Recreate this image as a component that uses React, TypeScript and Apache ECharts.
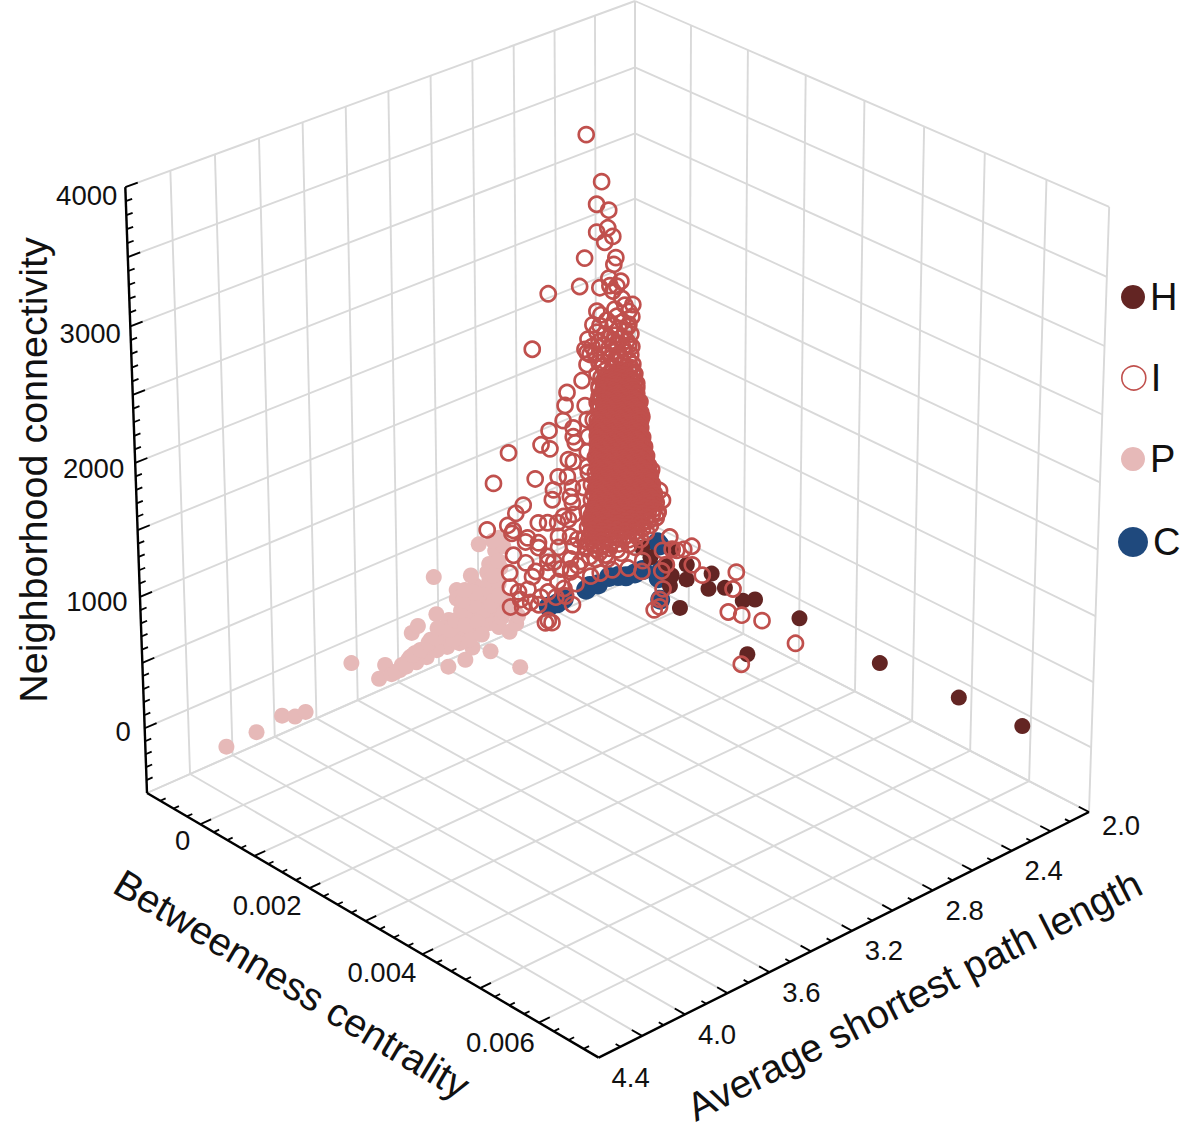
import React, { useEffect, useRef } from 'react';
import * as echarts from 'echarts';

// nodes are [betweenness centrality, average shortest path length, neighborhood connectivity]
type Node3 = [number, number, number];

const hubNodes: Node3[] = [
  [0.0063, 2.14, 100], [0.0053, 2.16, 100], [0.00405, 2.19, 100], [0.00258, 2.17, 100], [0.0028, 2.5, 100],
  [0.00186, 2.19, 100], [0.00178, 2.23, 100], [0.00139, 2.21, 100], [0.00127, 2.26, 100], [0.00101, 2.17, 100],
  [0.00091, 2.27, 100], [0.00063, 2.19, 100], [0.00089, 2.35, 100], [0.00071, 2.29, 100], [0.00045, 2.25, 100],
  [0.00018, 2.25, 100], [-0.00008, 2.22, 100], [0.00139, 2.44, 100], [0.00023, 2.15, 100],
];

const peripheralNodes: Node3[] = [
  [0, 4.27, 0], [0, 4.13, 10], [0, 4.01, 50], [0, 3.95, 0], [0, 3.9, 0], [0, 3.68, 220], [0, 3.55, 7], [0, 3.52, 92],
  [0, 3.49, 0], [0, 3.45, 3], [0, 3.41, 53], [0, 3.37, 7], [0, 3.32, 12], [0, 3.29, 124], [0, 3.39, 250], [0, 3.36, 283],
  [0, 3.28, 606], [0, 3.27, 312], [0, 3.21, 225], [0.0004, 3.32, 30], [0.00041, 3.24, 30], [0.00024, 3.16, 30],
  [0.00046, 3.13, 30], [0.001, 3.13, 30], [0, 3.17, 430], [0, 3.17, 365], [0, 3.08, 405], [0, 3.06, 710], [0, 2.96, 693],
  [0, 2.98, 605], [0, 3.01, 524], [0, 3.02, 465], [0, 2.955, 457], [0, 3.03, 344], [0, 3.095, 322], [0, 3.14, 200],
  [0, 3.17, 120], [0, 3.23, 106], [0, 3.255, 76], [0, 3.3, 80], [0, 3.34, 80], [0, 3.22, 22], [0, 3.14, 45], [0, 3.095, 89],
  [0, 3.08, 184], [0, 3.01, 62], [0, 2.965, 0], [0.00025, 2.98, 30], [0.00015, 2.92, 30], [0, 2.98, 139], [0, 3.03, 228],
  [0, 2.98, 240], [0, 2.94, 190], [0, 2.95, 65], [0, 3.05, 132], [0, 3.11, 231], [0, 3.06, 275], [0, 3.01, 319], [0, 3.11, 0],
  [0, 3.16, 9], [0, 3.19, 56], [0, 3.255, 154], [0, 3.3, 134], [0, 3.4, 69], [0, 3.44, 35], [0, 3.05, 55], [0, 3.01, 396],
  [0, 2.965, 339], [0, 3.375, 83], [0, 3.27, 32], [0, 3.18, 166], [0, 3.11, 153], [0, 3.04, 180], [0, 2.99, 224],
  [0, 2.92, 135], [0, 2.87, 23],
  [0, 3.47, 4], [0, 3.42, 9], [0, 3.385, 75], [0, 3.35, 90], [0, 3.31, 118], [0, 3.275, 129], [0, 3.24, 183], [0, 3.205, 144],
  [0, 3.18, 200], [0, 3.15, 258], [0, 3.13, 128], [0, 3.09, 256], [0, 3.07, 111], [0, 3.0, 195], [0, 2.94, 97], [0, 2.89, 79],
  [0, 3.05, 0], [0, 3.265, 200], [0, 3.14, 329], [0, 3.085, 353], [0, 2.99, 418], [0, 2.965, 517], [0, 2.94, 616], [0, 2.99, 690],
  [0, 2.965, 246], [0, 3.1, 496], [0, 3.13, 403],
];

const connectorNodes: Node3[] = [
  [0.00027, 2.79, 100], [0.00028, 2.75, 100], [0.00025, 2.71, 100], [0.00026, 2.6, 100], [0.00022, 2.57, 100],
  [0.00026, 2.54, 100], [0.00021, 2.47, 100], [0.00027, 2.44, 100], [0.00034, 2.42, 100], [0.00036, 2.38, 100],
  [0.00036, 2.34, 100], [0.00107, 2.45, 100], [0.00052, 2.29, 100], [0.00065, 2.34, 100], [-0.00005, 2.15, 100],
  [0.00003, 2.16, 100],
];

// the loose rings round the dense column, read one by one
const intermediateNodes: Node3[] = [
  [0, 2.52, 3480], [0, 2.445, 3085], [0, 2.47, 2930], [0, 2.41, 2850], [0, 2.47, 2720], [0, 2.415, 2720], [0, 2.39, 2640],
  [0, 2.43, 2620], [0, 2.53, 2560], [0, 2.375, 2470], [0, 2.385, 2425], [0, 2.71, 2400], [0, 2.555, 2360], [0, 2.41, 2335],
  [0, 2.35, 2275], [0, 2.455, 2290], [0, 2.405, 2275], [0, 2.37, 2250], [0, 2.39, 2225], [0, 2.79, 2030], [0, 2.29, 2060],
  [0, 2.345, 2140], [0, 2.47, 2120], [0, 2.295, 1970], [0, 2.49, 2030], [0, 2.315, 1905], [0, 2.455, 2000], [0, 2.515, 1935],
  [0, 2.295, 1740], [0, 2.52, 1835], [0, 2.495, 1865],
  [0, 2.545, 1636], [0, 2.52, 1744], [0, 2.505, 1811], [0, 2.53, 1866], [0, 2.62, 1592], [0, 2.63, 1498], [0, 2.53, 1433],
  [0, 2.64, 1388], [0, 2.71, 1356], [0, 2.75, 1273], [0, 2.706, 1213], [0, 2.91, 1315], [0, 2.985, 1130], [0, 2.78, 1029],
  [0, 2.59, 1300], [0, 2.59, 1232], [0, 2.58, 1178], [0, 2.515, 1184], [0, 2.49, 1298], [0, 2.52, 1318], [0, 2.615, 1070],
  [0, 2.59, 1038], [0, 2.52, 1070], [0, 2.52, 954], [0, 2.515, 905], [0, 2.666, 970], [0, 2.62, 941], [0, 2.69, 885],
  [0, 2.696, 812], [0, 2.596, 840], [0, 2.606, 776], [0, 2.596, 723], [0, 2.54, 804], [0, 2.84, 866], [0, 2.877, 827],
  [0, 2.52, 597], [0, 2.59, 627], [0, 2.64, 644], [0, 3.018, 793], [0, 2.917, 760], [0, 2.89, 703], [0, 2.897, 685],
  [0, 2.766, 678], [0, 2.72, 649], [0, 2.67, 616], [0, 2.616, 605], [0, 2.82, 598], [0, 2.83, 573], [0, 2.766, 523],
  [0, 2.766, 485], [0, 2.666, 505], [0, 2.57, 420], [0, 2.606, 466], [0, 2.666, 420], [0, 2.59, 379], [0, 2.53, 333],
  [0, 2.89, 510], [0, 2.83, 410], [0, 2.72, 385], [0, 2.69, 320], [0, 2.78, 308], [0, 2.91, 385], [0, 2.606, 288],
  [0, 2.606, 187], [0, 2.555, 233], [0, 2.72, 261], [0, 2.656, 243], [0, 2.797, 279], [0, 2.907, 272], [0, 2.867, 208],
  [0, 2.82, 195], [0, 2.907, 117], [0, 2.857, 140], [0, 2.807, 84], [0, 2.847, 71], [0, 2.756, 90], [0, 2.72, 106],
  [0, 2.67, 153], [0, 2.72, 339], [0, 2.606, 210], [0, 2.57, 211], [0, 2.64, 78],
  [0.00043, 2.715, 100], [0.00053, 2.863, 100], [0.00055, 2.883, 100], [0.0006, 2.864, 100], [0.00004, 2.516, 100],
  [0.00006, 2.473, 100], [0.0001, 2.423, 100], [0.00006, 2.596, 100], [0.00015, 2.722, 100], [0.00021, 2.689, 100],
  [0.00015, 2.808, 100],
  [0.00032, 2.076, 100], [0.00031, 2.115, 100], [0.00021, 2.147, 100], [0.00068, 2.176, 100], [0.00096, 2.204, 100],
  [0.00119, 2.094, 100], [0.00148, 2.194, 100], [0.00187, 2.33, 100], [0.00204, 2.31, 100], [0.00231, 2.284, 100],
  [0.003, 2.313, 100], [0.00293, 2.568, 100], [0.00106, 2.45, 100], [0.00121, 2.52, 100], [0.0012, 2.49, 100],
  [0.00089, 2.385, 100], [0.00046, 2.247, 100], [0.00054, 2.293, 100], [0.00015, 2.18, 100], [0.00018, 2.29, 100],
  [0.0002, 2.37, 100], [0.00038, 2.35, 100], [0.00027, 2.14, 100], [0, 2.1, 120],
  [0, 2.244, 1164], [0, 2.254, 1286], [0, 2.27, 1405], [0, 2.254, 1053], [0, 2.244, 931], [0, 2.194, 713], [0, 2.204, 595],
  [0, 2.153, 524], [0, 2.138, 437], [0, 2.163, 352],
];

// the dense column: connectivity level, then the path lengths of the rings at that level
const intermediateColumn: [number, number[]][] = [
  [2080, [2.33, 2.38, 2.45]],
  [2020, [2.31, 2.37, 2.42]],
  [1960, [2.34, 2.39, 2.47]],
  [1920, [2.31, 2.36, 2.43]],
  [1880, [2.33, 2.38, 2.41, 2.46]],
  [1840, [2.3, 2.35, 2.39, 2.44]],
  [1800, [2.32, 2.37, 2.41, 2.48]],
  [1760, [2.31, 2.34, 2.39, 2.43]],
  [1720, [2.33, 2.37, 2.4, 2.46]],
  [1680, [2.3, 2.35, 2.38, 2.44]],
  [1640, [2.31, 2.34, 2.39, 2.43, 2.47]],
  [1600, [2.29, 2.33, 2.37, 2.4, 2.45]],
  [1580, [2.3, 2.34, 2.39, 2.43]],
  [1560, [2.31, 2.35, 2.38, 2.41, 2.44]],
  [1540, [2.29, 2.33, 2.36, 2.39, 2.42, 2.46]],
  [1520, [2.28, 2.32, 2.34, 2.37, 2.39, 2.43, 2.46]],
  [1500, [2.3, 2.35, 2.38, 2.41, 2.44]],
  [1480, [2.3, 2.33, 2.36, 2.38, 2.41, 2.44]],
  [1460, [2.28, 2.32, 2.35, 2.39, 2.43, 2.46]],
  [1440, [2.27, 2.31, 2.34, 2.37, 2.4, 2.42, 2.45]],
  [1420, [2.29, 2.33, 2.36, 2.39, 2.43, 2.47]],
  [1400, [2.29, 2.32, 2.35, 2.38, 2.41, 2.44]],
  [1380, [2.28, 2.31, 2.34, 2.37, 2.4, 2.43, 2.46]],
  [1360, [2.27, 2.3, 2.33, 2.36, 2.39, 2.42, 2.46]],
  [1340, [2.29, 2.32, 2.35, 2.38, 2.41, 2.44]],
  [1320, [2.28, 2.31, 2.34, 2.37, 2.4, 2.43]],
  [1300, [2.27, 2.3, 2.33, 2.36, 2.39, 2.42, 2.45]],
  [1280, [2.26, 2.29, 2.32, 2.35, 2.38, 2.41, 2.44, 2.47]],
  [1260, [2.28, 2.31, 2.34, 2.37, 2.4, 2.43, 2.46]],
  [1240, [2.27, 2.3, 2.33, 2.36, 2.39, 2.42, 2.45]],
  [1220, [2.26, 2.29, 2.32, 2.35, 2.38, 2.41, 2.44, 2.47]],
  [1200, [2.25, 2.28, 2.31, 2.34, 2.37, 2.4, 2.43, 2.46]],
  [1180, [2.27, 2.3, 2.33, 2.36, 2.39, 2.42, 2.45]],
  [1160, [2.26, 2.29, 2.32, 2.35, 2.38, 2.41, 2.44, 2.47]],
  [1140, [2.25, 2.28, 2.31, 2.34, 2.37, 2.4, 2.43, 2.46]],
  [1120, [2.27, 2.3, 2.33, 2.36, 2.39, 2.42, 2.45]],
  [1100, [2.26, 2.29, 2.32, 2.35, 2.38, 2.41, 2.44, 2.47]],
  [1080, [2.25, 2.28, 2.31, 2.34, 2.37, 2.4, 2.43, 2.46]],
  [1060, [2.27, 2.3, 2.33, 2.36, 2.39, 2.42, 2.45]],
  [1040, [2.26, 2.29, 2.32, 2.35, 2.38, 2.41, 2.44, 2.47]],
  [1020, [2.25, 2.28, 2.31, 2.34, 2.37, 2.4, 2.43, 2.46]],
  [1000, [2.24, 2.27, 2.3, 2.33, 2.36, 2.39, 2.42, 2.45, 2.48]],
  [980, [2.26, 2.29, 2.32, 2.35, 2.38, 2.41, 2.44, 2.47]],
  [960, [2.25, 2.28, 2.31, 2.34, 2.37, 2.4, 2.43, 2.46]],
  [940, [2.24, 2.27, 2.3, 2.33, 2.36, 2.39, 2.42, 2.45]],
  [920, [2.23, 2.26, 2.29, 2.32, 2.35, 2.38, 2.41, 2.44, 2.47]],
  [900, [2.25, 2.28, 2.31, 2.34, 2.37, 2.4, 2.43, 2.46]],
  [880, [2.24, 2.27, 2.3, 2.33, 2.36, 2.39, 2.42, 2.45, 2.48]],
  [860, [2.23, 2.26, 2.29, 2.32, 2.35, 2.38, 2.41, 2.44]],
  [840, [2.22, 2.25, 2.28, 2.31, 2.34, 2.37, 2.4, 2.43, 2.46]],
  [820, [2.24, 2.27, 2.3, 2.33, 2.36, 2.39, 2.42, 2.45]],
  [800, [2.23, 2.26, 2.29, 2.32, 2.35, 2.38, 2.41, 2.44, 2.47, 2.5]],
  [780, [2.22, 2.25, 2.28, 2.31, 2.34, 2.37, 2.4, 2.43, 2.46]],
  [760, [2.21, 2.24, 2.27, 2.3, 2.33, 2.36, 2.39, 2.42, 2.45, 2.48]],
  [740, [2.23, 2.26, 2.29, 2.32, 2.35, 2.38, 2.41, 2.44, 2.47]],
  [720, [2.22, 2.25, 2.28, 2.31, 2.34, 2.37, 2.4, 2.43, 2.46, 2.49]],
  [700, [2.21, 2.24, 2.27, 2.3, 2.33, 2.36, 2.39, 2.42, 2.45]],
  [680, [2.2, 2.23, 2.26, 2.29, 2.32, 2.35, 2.38, 2.41, 2.44, 2.47, 2.5]],
  [660, [2.22, 2.25, 2.28, 2.31, 2.34, 2.37, 2.4, 2.43, 2.46]],
  [640, [2.21, 2.24, 2.27, 2.3, 2.33, 2.36, 2.39, 2.42, 2.45, 2.48]],
  [620, [2.2, 2.23, 2.26, 2.29, 2.32, 2.35, 2.38, 2.41, 2.44, 2.47]],
  [600, [2.19, 2.22, 2.25, 2.28, 2.31, 2.34, 2.37, 2.4, 2.43, 2.46, 2.49, 2.52]],
  [580, [2.21, 2.24, 2.27, 2.3, 2.33, 2.36, 2.39, 2.42, 2.45, 2.48]],
  [560, [2.2, 2.23, 2.26, 2.29, 2.32, 2.35, 2.38, 2.41, 2.44, 2.47, 2.5]],
  [540, [2.19, 2.22, 2.25, 2.28, 2.31, 2.34, 2.37, 2.4, 2.43, 2.46, 2.49]],
  [520, [2.18, 2.21, 2.24, 2.27, 2.3, 2.33, 2.36, 2.39, 2.42, 2.45, 2.48, 2.51]],
  [500, [2.2, 2.23, 2.26, 2.29, 2.32, 2.35, 2.38, 2.41, 2.44, 2.47, 2.5]],
  [480, [2.19, 2.22, 2.25, 2.28, 2.31, 2.34, 2.37, 2.4, 2.43, 2.46, 2.49, 2.52]],
  [460, [2.18, 2.21, 2.24, 2.27, 2.3, 2.33, 2.36, 2.39, 2.42, 2.45, 2.48]],
  [440, [2.17, 2.2, 2.23, 2.26, 2.29, 2.32, 2.35, 2.38, 2.41, 2.44, 2.47, 2.5]],
  [400, [2.18, 2.21, 2.24, 2.27, 2.3, 2.33, 2.36, 2.39, 2.42, 2.45, 2.48, 2.51, 2.54]],
  [360, [2.16, 2.19, 2.22, 2.25, 2.28, 2.31, 2.34, 2.37, 2.4, 2.43, 2.46, 2.49, 2.52]],
  [320, [2.17, 2.21, 2.25, 2.29, 2.33, 2.37, 2.41, 2.45, 2.49, 2.53]],
  [280, [2.2, 2.24, 2.28, 2.32, 2.36, 2.4, 2.44, 2.48]],
  [240, [2.22, 2.27, 2.31, 2.36, 2.41, 2.46, 2.51]],
  [200, [2.25, 2.31, 2.37, 2.43, 2.48]],
  [160, [2.28, 2.35, 2.42]],
];

const betweennessLabels = ['0', '0.002', '0.004', '0.006'];
const pathLengthLabels = ['2.0', '2.4', '2.8', '3.2', '3.6', '4.0', '4.4'];
const connectivityLabels = ['0', '1000', '2000', '3000', '4000'];

const bMin = -0.001;
const bMax = 0.007;
const lMin = 2;
const lMax = 4.4;
const zMin = -500;
const zMax = 4000;

// the box as the camera sees it: the far bottom corner and the three corners next to it
const far = [635, 578];
const bEnd = [1089, 812];
const lEnd = [147, 793];
const zEnd = [635, 1];
const wB = 0.94;
const wL = 0.94;
const wZ = 0.96;

const project = (b: number, l: number, z: number) => {
  const u = (b - bMin) / (bMax - bMin);
  const v = (l - lMin) / (lMax - lMin);
  const t = (z - zMin) / (zMax - zMin);
  const d = 1 + u * (wB - 1) + v * (wL - 1) + t * (wZ - 1);
  return [0, 1].map(
    (i) =>
      (far[i] + u * (wB * bEnd[i] - far[i]) + v * (wL * lEnd[i] - far[i]) + t * (wZ * zEnd[i] - far[i])) / d
  );
};

const segment = (a: Node3, c: Node3, width = 1) => [...project(...a), ...project(...c), width];

const gridSegments: number[][] = [];
for (let i = 0; i <= 12; i++) {
  const l = lMin + i * 0.2;
  gridSegments.push(segment([bMin, l, zMin], [bMin, l, zMax], 1.9));
  gridSegments.push(segment([bMin, l, zMin], [bMax, l, zMin], 1.9));
}
for (let i = 0; i <= 8; i++) {
  const b = bMin + i * 0.001;
  gridSegments.push(segment([b, lMin, zMin], [b, lMin, zMax], 1.9));
  gridSegments.push(segment([b, lMin, zMin], [b, lMax, zMin], 1.9));
}
for (let i = 0; i <= 9; i++) {
  const z = zMin + i * 500;
  gridSegments.push(segment([bMin, lMin, z], [bMin, lMax, z], 1.9));
  gridSegments.push(segment([bMin, lMin, z], [bMax, lMin, z], 1.9));
}

const axisSegments: number[][] = [
  segment([bMin, lMax, zMin], [bMin, lMax, zMax], 2.4),
  segment([bMin, lMax, zMin], [bMax, lMax, zMin], 2.4),
  segment([bMax, lMax, zMin], [bMax, lMin, zMin], 2.4),
];
for (let i = 1; i <= 45; i++) {
  const z = zMin + i * 100;
  const len = i % 5 === 0 ? 0.055 : 0.028;
  axisSegments.push(segment([bMin, lMax, z], [bMin, lMax - len, z], 1.8));
}
for (let i = 1; i < 32; i++) {
  const b = bMin + i * 0.00025;
  const len = i % 4 === 0 ? 0.05 : 0.025;
  axisSegments.push(segment([b, lMax, zMin], [b, lMax - len, zMin], 1.8));
}
for (let i = 0; i < 24; i++) {
  const l = lMin + i * 0.1;
  const len = i % 2 === 0 ? 0.00017 : 0.00008;
  axisSegments.push(segment([bMax, l, zMin], [bMax - len, l, zMin], 1.8));
}

const columnNodes: Node3[] = intermediateColumn.flatMap(([z, lengths]) =>
  lengths.map((l) => [0, l, z] as Node3)
);

const FONT = '"Liberation Sans", Arial, sans-serif';
const tickFont = `27.5px ${FONT}`;
const titleFont = `39.5px ${FONT}`;

const label = (text: string, x: number, y: number, align: string) => ({
  type: 'text',
  x,
  y,
  style: { text, font: tickFont, fill: '#111', textAlign: align, textVerticalAlign: 'middle' },
});

const title = (text: string, x: number, y: number, degrees: number) => ({
  type: 'text',
  x,
  y,
  rotation: (degrees * Math.PI) / 180,
  style: { text, font: titleFont, fill: '#111', textAlign: 'center', textVerticalAlign: 'middle' },
});

const tickLabels = [
  ...connectivityLabels.map((text) => {
    const z = Number(text);
    const [x, y] = project(bMin, lMax, z);
    return label(text, x - 14 + (z / 4000) * 6, y + 3 + (z / 4000) * 5, 'right');
  }),
  ...betweennessLabels.map((text) => {
    const b = Number(text);
    const [x, y] = project(b, lMax, zMin);
    return label(text, x - 10 + (b / 0.006) * 6, y + 16 + (b / 0.006) * 4, 'right');
  }),
  ...pathLengthLabels.map((text) => {
    const l = Number(text);
    const [x, y] = project(bMax, l, zMin);
    return label(text, x + 32, y + (l === 2 ? 13 : 20), 'center');
  }),
];

const wires = (data: number[][], color: string, z: number) => ({
  type: 'custom',
  coordinateSystem: 'cartesian2d',
  silent: true,
  clip: false,
  z,
  data,
  renderItem: (_: unknown, api: any) => {
    const a = api.coord([api.value(0), api.value(1)]);
    const c = api.coord([api.value(2), api.value(3)]);
    return {
      type: 'line',
      shape: { x1: a[0], y1: a[1], x2: c[0], y2: c[1] },
      style: { stroke: color, lineWidth: api.value(4), fill: 'none' },
    };
  },
});

const GRID_COLOR = '#d9d9d9';
const HUB = '#632523';
const INTER = '#c0504d';
const PERI = '#e6b9b8';
const CONN = '#1f497d';

const nodes = (name: string, data: Node3[], size: number, itemStyle: object, z: number) => ({
  name,
  type: 'scatter',
  silent: true,
  z,
  symbol: 'circle',
  symbolSize: size,
  itemStyle: { opacity: 1, ...itemStyle },
  data: data.map((n) => project(...n)),
});

const legendEntry = (name: string, size: number, top: number, left: number, itemStyle: object) => ({
  show: true,
  left,
  top,
  orient: 'vertical',
  padding: 0,
  itemWidth: size,
  itemHeight: size,
  selectedMode: false,
  textStyle: { fontFamily: FONT, fontSize: 38, color: '#111' },
  data: [{ name, icon: 'circle', itemStyle }],
});

const App: React.FC = () => {
  const chartRef = useRef<HTMLDivElement>(null);

  useEffect(() => {
    if (!chartRef.current) return;
    const chart = echarts.init(chartRef.current, undefined, { renderer: 'svg' });
    chart.setOption({
      animation: false,
      backgroundColor: '#fff',
      grid: { left: 0, right: 0, top: 0, bottom: 0 },
      xAxis: { type: 'value', min: 0, max: 1181, show: false },
      yAxis: { type: 'value', min: 0, max: 1130, inverse: true, show: false },
      legend: [
        legendEntry('H', 24, 278, 1121, { color: HUB, borderWidth: 0, opacity: 1 }),
        legendEntry('I', 24, 359, 1121, { color: '#fff', borderColor: INTER, borderWidth: 1.6, opacity: 1 }),
        legendEntry('P', 24, 440, 1121, { color: PERI, borderWidth: 0, opacity: 1 }),
        legendEntry('C', 30, 523, 1118, { color: CONN, borderWidth: 0, opacity: 1 }),
      ],
      graphic: [
        ...tickLabels,
        title('Neighborhood connectivity', 33, 470, 90),
        title('Betweenness centrality', 292, 984, -31),
        title('Average shortest path length', 914, 995, 27),
      ],
      series: [
        wires(gridSegments, GRID_COLOR, 1),
        wires(axisSegments, '#000', 2),
        nodes('P', peripheralNodes, 16, { color: PERI }, 3),
        nodes('C', connectorNodes, 20, { color: CONN }, 4),
        nodes('H', hubNodes, 16, { color: HUB }, 5),
        nodes('I', [...intermediateNodes, ...columnNodes], 15, { color: 'rgba(255,255,255,0)', borderColor: INTER, borderWidth: 2.7 }, 6),
      ],
    });
    return () => chart.dispose();
  }, []);

  return <div ref={chartRef} style={{ position: 'absolute', left: 0, top: 0, width: 1181, height: 1130 }} />;
};

export default App;
